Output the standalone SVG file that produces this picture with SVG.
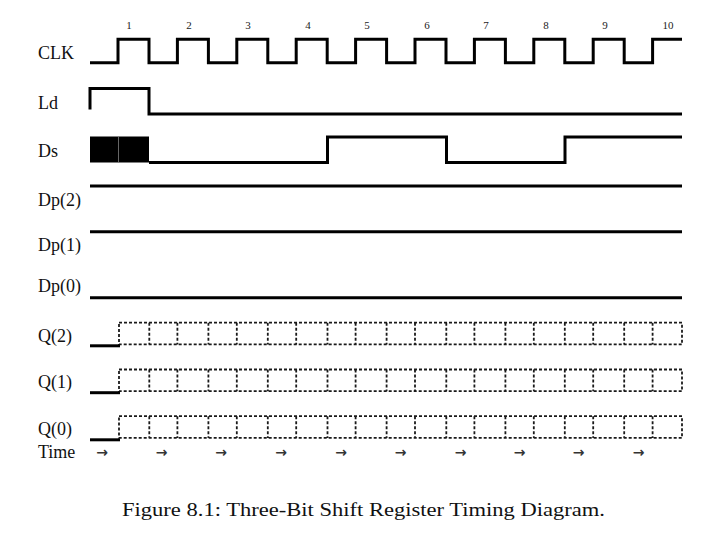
<svg xmlns="http://www.w3.org/2000/svg" width="712" height="537" viewBox="0 0 712 537">
<style>
.lbl{font-family:"Liberation Serif","Times New Roman",serif;font-size:18px;fill:#111}
.num{font-family:"Liberation Serif","Times New Roman",serif;font-size:11px;fill:#222;text-anchor:middle}
.sig{fill:none;stroke:#000;stroke-width:3;stroke-linejoin:miter}
.dash{fill:none;stroke:#1a1a1a;stroke-width:1.8;stroke-dasharray:3 2}
.arr{font-family:"DejaVu Sans",sans-serif;font-size:14px;font-weight:bold;fill:#333;text-anchor:middle}
.cap{font-family:"Liberation Serif","Times New Roman",serif;font-size:19px;fill:#111}
</style>
<rect width="712" height="537" fill="#fff"/>
<g id="clock-numbers">
<text class="num" x="129" y="29">1</text>
<text class="num" x="189" y="29">2</text>
<text class="num" x="248" y="29">3</text>
<text class="num" x="308" y="29">4</text>
<text class="num" x="367" y="29">5</text>
<text class="num" x="427" y="29">6</text>
<text class="num" x="486" y="29">7</text>
<text class="num" x="546" y="29">8</text>
<text class="num" x="605" y="29">9</text>
<text class="num" x="668" y="29">10</text>
</g>
<g id="CLK">
<text class="lbl" x="38" y="59">CLK</text>
<path class="sig" d="M90,62.7 H118 V39.3 H149 V62.7 H177.4 V39.3 H208.4 V62.7 H236.8 V39.3 H267.8 V62.7 H296.2 V39.3 H327.2 V62.7 H355.6 V39.3 H386.6 V62.7 H415 V39.3 H446 V62.7 H474.4 V39.3 H505.4 V62.7 H533.8 V39.3 H564.8 V62.7 H593.2 V39.3 H624.2 V62.7 H652.6 V39.3 H682"/>
</g>
<g id="Ld">
<text class="lbl" x="38" y="109">Ld</text>
<path class="sig" d="M90,109.5 V88.5 H149 V114 H682"/>
</g>
<g id="Ds">
<text class="lbl" x="38" y="157">Ds</text>
<rect x="90" y="136.5" width="59" height="26" fill="#000"/>
<line x1="118.5" y1="137" x2="118.5" y2="162" stroke="#666" stroke-width="1"/>
<path class="sig" d="M149,162.5 H327.5 V137 H446.5 V162.5 H565 V137 H682"/>
</g>
<g id="Dp2">
<text class="lbl" x="38" y="206">Dp(2)</text>
<line class="sig" x1="90" y1="186" x2="682" y2="186"/>
</g>
<g id="Dp1">
<text class="lbl" x="38" y="251">Dp(1)</text>
<line class="sig" x1="90" y1="231.7" x2="682" y2="231.7"/>
</g>
<g id="Dp0">
<text class="lbl" x="38" y="292">Dp(0)</text>
<line class="sig" x1="90" y1="297.7" x2="682" y2="297.7"/>
</g>
<defs>
<g id="qcells">
<path class="dash" d="M119,0 H682 V21.7 H119 Z M149.3,0 V21.7 M177.4,0 V21.7 M208.4,0 V21.7 M236.8,0 V21.7 M267.8,0 V21.7 M296.2,0 V21.7 M327.5,0 V21.7 M355.6,0 V21.7 M386.6,0 V21.7 M415,0 V21.7 M446.3,0 V21.7 M474.4,0 V21.7 M505.4,0 V21.7 M533.8,0 V21.7 M564.8,0 V21.7 M593.2,0 V21.7 M624.2,0 V21.7 M652.6,0 V21.7"/>
</g>
</defs>
<g id="Q2">
<text class="lbl" x="38" y="342">Q(2)</text>
<use href="#qcells" transform="translate(0,322.7)"/>
<line class="sig" x1="90" y1="345.8" x2="120" y2="345.8"/>
</g>
<g id="Q1">
<text class="lbl" x="38" y="388">Q(1)</text>
<use href="#qcells" transform="translate(0,369.5)"/>
<line class="sig" x1="90" y1="392.7" x2="120" y2="392.7"/>
</g>
<g id="Q0">
<text class="lbl" x="38" y="435">Q(0)</text>
<use href="#qcells" transform="translate(0,416.2)"/>
<line class="sig" x1="90" y1="439.8" x2="120" y2="439.8"/>
</g>
<g id="Time">
<text class="lbl" x="38" y="458">Time</text>
<text class="arr" x="102" y="457">→</text>
<text class="arr" x="161.5" y="457">→</text>
<text class="arr" x="221" y="457">→</text>
<text class="arr" x="281" y="457">→</text>
<text class="arr" x="341" y="457">→</text>
<text class="arr" x="400.5" y="457">→</text>
<text class="arr" x="460.5" y="457">→</text>
<text class="arr" x="519.5" y="457">→</text>
<text class="arr" x="578.5" y="457">→</text>
<text class="arr" x="638.5" y="457">→</text>
</g>
<g id="connectors"></g>
<g id="caption">
<text class="cap" x="122" y="516" textLength="483" lengthAdjust="spacingAndGlyphs">Figure 8.1: Three-Bit Shift Register Timing Diagram.</text>
</g>
</svg>
